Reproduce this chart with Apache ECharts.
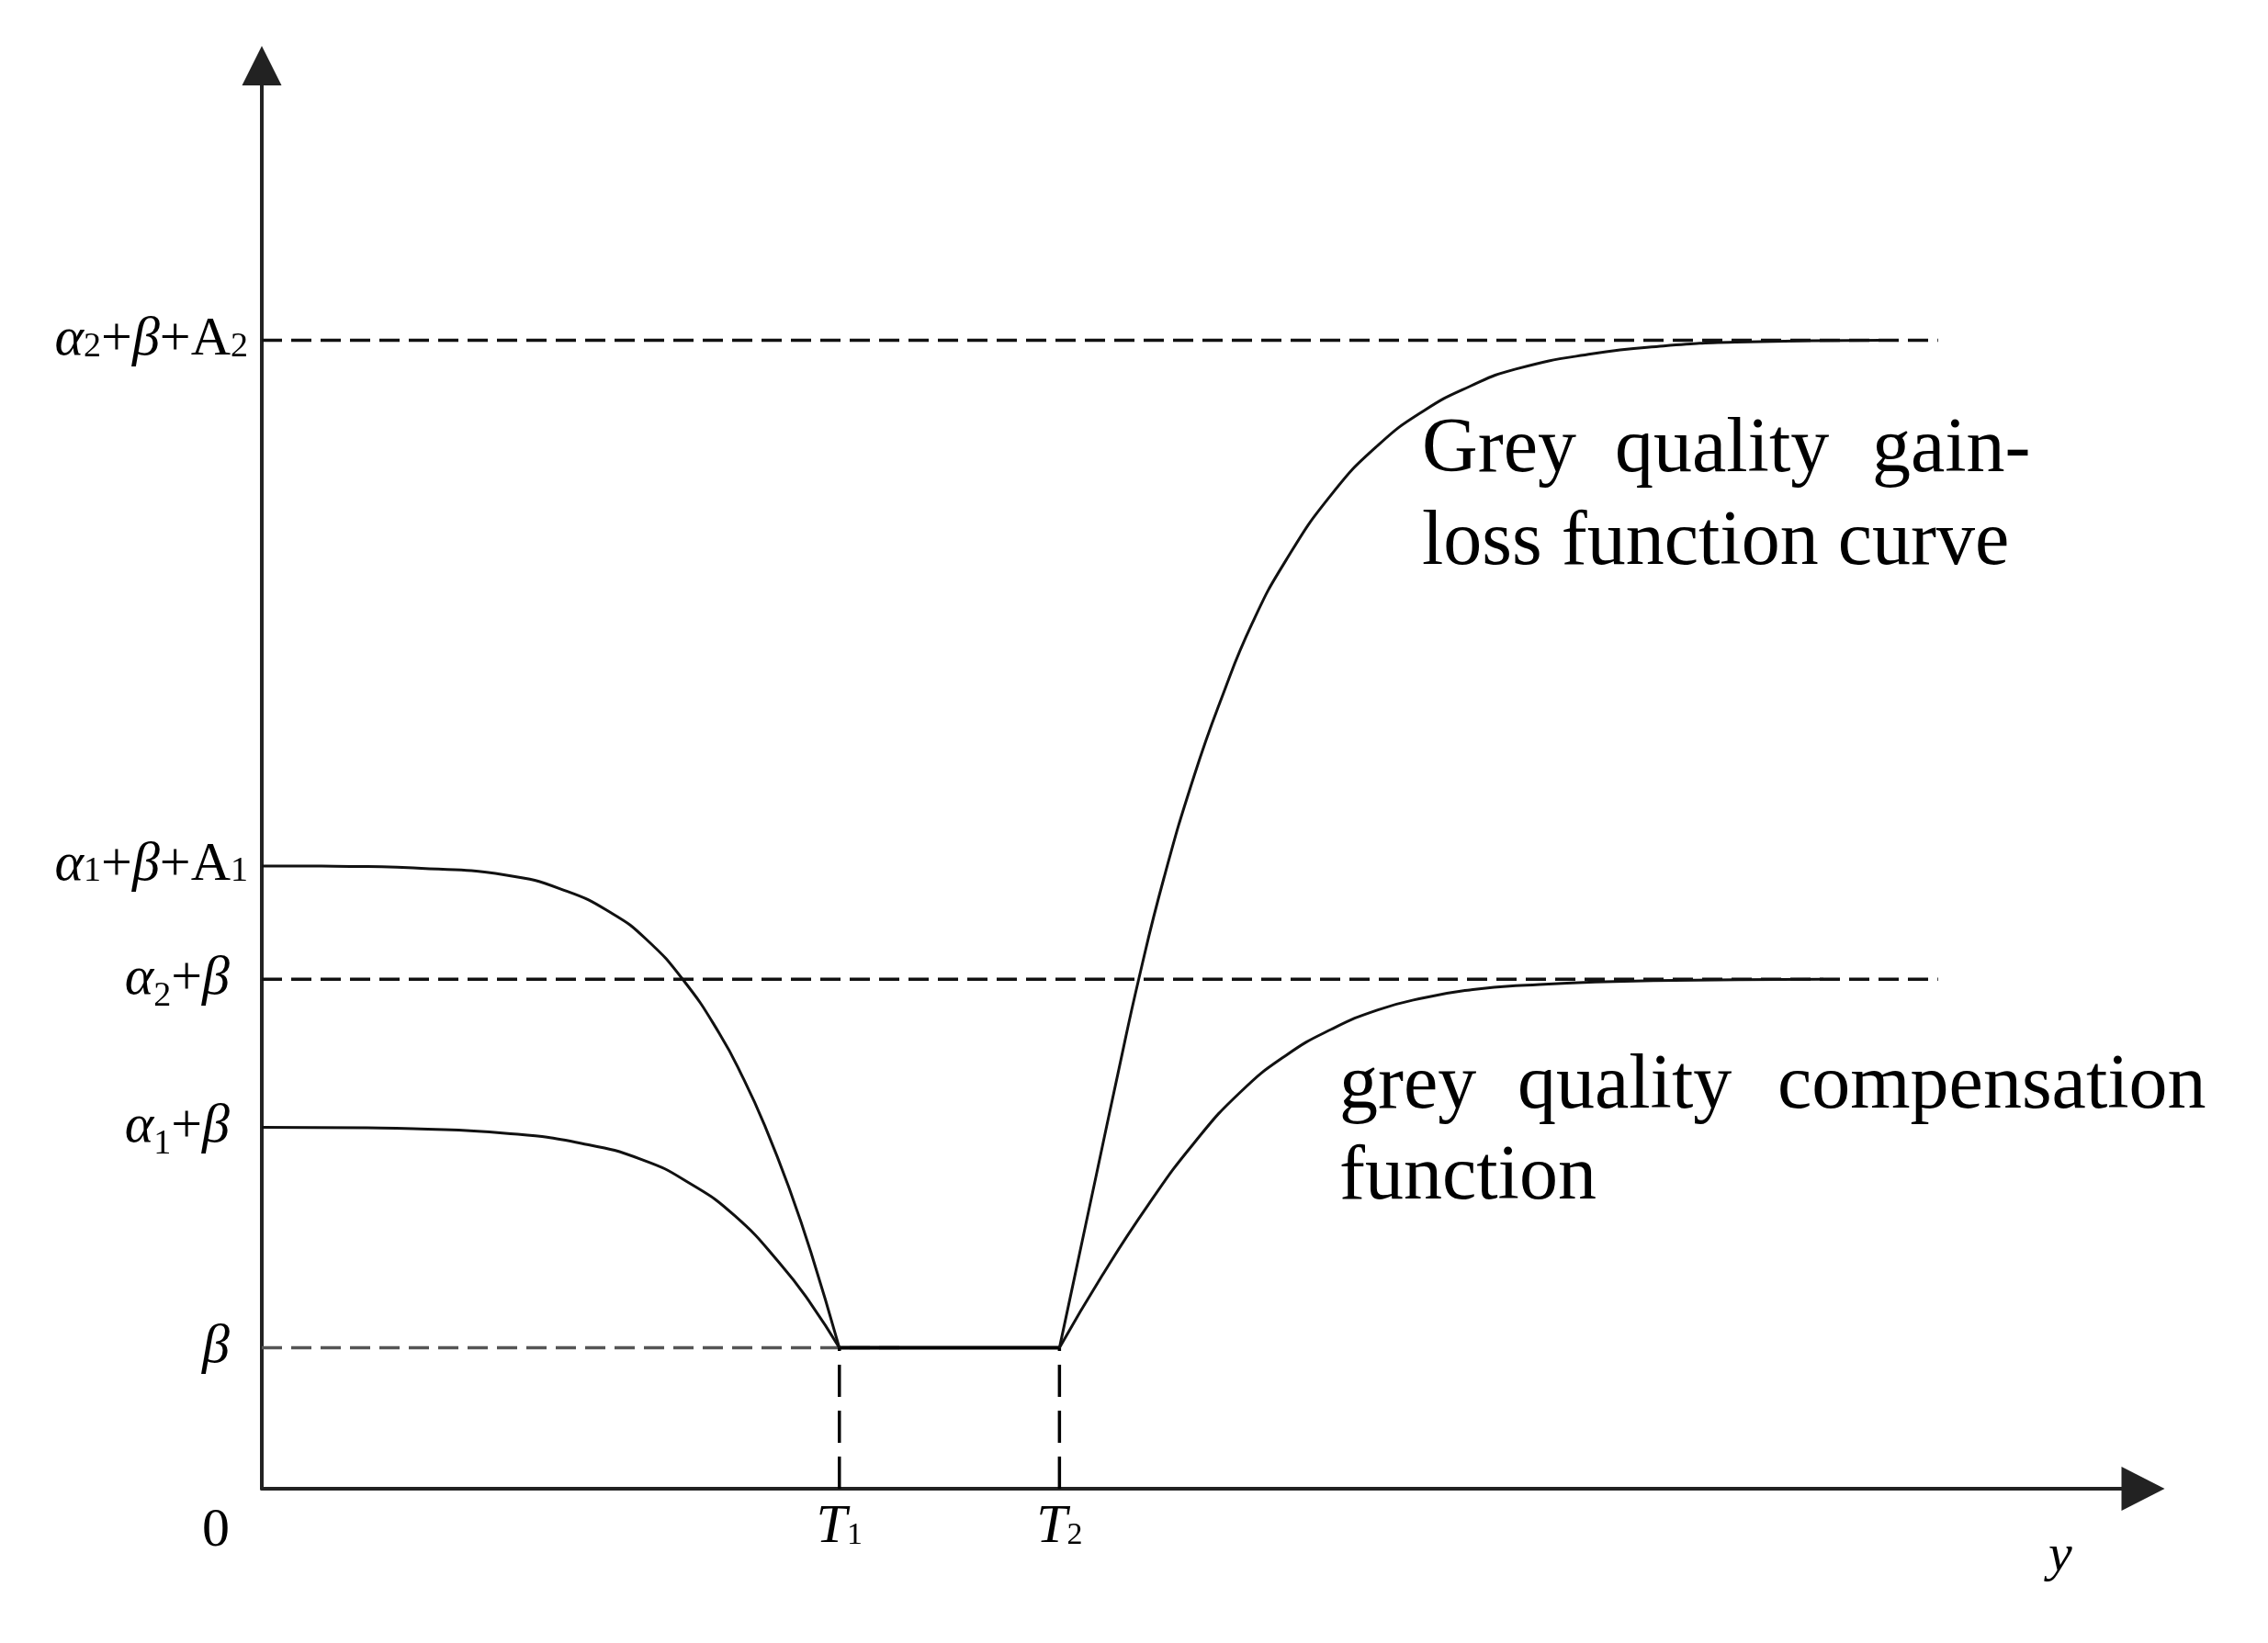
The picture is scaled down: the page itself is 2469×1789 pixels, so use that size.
<!DOCTYPE html>
<html>
<head>
<meta charset="utf-8">
<script src="https://cdn.jsdelivr.net/npm/echarts@6/dist/echarts.min.js"></script>
<style>html,body{margin:0;padding:0;background:#fff}#c{width:2469px;height:1789px}</style>
</head>
<body>
<div id="c"></div>
<script>
// ---- levels on the vertical axis ----
const yTickValues = [0, 9.9, 25.4, 35.8, 43.8, 80.7];
const yTickLabels = [
  '{zero|0}',
  '{gEnd|β}',
  '{g|α}{sl|1}{r|+}{gEnd|β}',
  '{g|α}{sl|2}{r|+}{gEnd|β}',
  '{g|α}{sb|1}{r|+}{g|β}{r|+A}{sb|1}',
  '{g|α}{sb|2}{r|+}{g|β}{r|+A}{sb|2}'
];
const BETA = 9.9, A2B = 35.8, A2BA2 = 80.7;
// ---- thresholds on the horizontal axis ----
const xTickValues = [30.7, 42.4];
const xTickLabels = ['{t|T}{ts|1}', '{t|T}{ts|2}'];
const T1 = 30.7, T2 = 42.4;
const dashEnd = 89.1, betaDashEnd = 34.3;

// ---- curves ----
const gainLossLeft = [[0,43.76],[3.17,43.75],[5.62,43.72],[8.06,43.62],[12.94,43.13],[16.21,41.99],[18.65,40.4],[20.41,38.64],[22.37,35.8],[24.32,32.0],[25.63,28.74],[26.76,25.44],[28.08,20.94],[29.2,16.57],[30.7,9.9]];
const gainLossRight = [[42.4,9.9],[43.21,14.92],[44.34,21.93],[45.51,29.18],[46.63,35.9],[47.95,42.9],[49.56,50.1],[51.03,55.6],[52.64,60.8],[54.44,65.24],[56.88,69.9],[59.33,73.32],[61.77,75.75],[64.21,77.46],[66.65,78.68],[70.7,79.75],[74.51,80.3],[78.37,80.57],[86.08,80.7]];
const compLeft = [[0,25.4],[5.62,25.36],[8.06,25.3],[12.94,24.98],[16.99,24.27],[20.26,23.1],[22.71,21.49],[25.15,19.17],[27.59,15.75],[29.2,12.97],[30.7,9.9]];
const compRight = [[42.4,9.9],[44.68,15.0],[47.12,19.95],[49.56,24.3],[52.0,27.85],[54.44,30.45],[56.88,32.3],[59.33,33.65],[61.77,34.5],[64.21,35.05],[66.65,35.35],[73.97,35.7],[83.01,35.8]];

// ---- annotation texts ----
const annoGainWords = ['Grey', 'quality', 'gain-'];
const annoGainLine2 = 'loss function curve';
const annoCompWords = ['grey', 'quality', 'compensation'];
const annoCompLine2 = 'function';
const axisName = 'y';

const SERIF = '"Liberation Serif", "DejaVu Serif", serif';
const chart = echarts.init(document.getElementById('c'));

function pick(vals, labels, v) {
  for (let i = 0; i < vals.length; i++) if (Math.abs(vals[i] - v) < 1e-6) return labels[i];
  return '';
}
function seg(data, extra) {
  return Object.assign({
    type: 'line', data: data, symbol: 'none', showSymbol: false, silent: true,
    lineStyle: { color: '#111', width: 3 }
  }, extra || {});
}

const fontMain = 60, fontSub = 38;
const richY = {
  g: { fontFamily: SERIF, fontStyle: 'italic', fontSize: fontMain, lineHeight: fontMain, verticalAlign: 'top', padding: [0,0,12,0], color: '#000' },
  gEnd: { fontFamily: SERIF, fontStyle: 'italic', fontSize: fontMain, lineHeight: fontMain, verticalAlign: 'top', padding: [0,20,12,0], color: '#000' },
  r: { fontFamily: SERIF, fontSize: fontMain, lineHeight: fontMain, verticalAlign: 'top', padding: [0,0,12,0], color: '#000' },
  sb: { fontFamily: SERIF, fontSize: fontSub, lineHeight: fontSub, verticalAlign: 'top', padding: [18,0,0,0], color: '#000' },
  sl: { fontFamily: SERIF, fontSize: fontSub, lineHeight: fontSub, verticalAlign: 'top', padding: [30,0,0,0], color: '#000' },
  zero: { fontFamily: SERIF, fontSize: fontMain, lineHeight: fontMain, verticalAlign: 'top', padding: [46,20,0,0], color: '#000' }
};
const richX = {
  t: { fontFamily: SERIF, fontStyle: 'italic', fontSize: 60, lineHeight: 60, verticalAlign: 'top', color: '#000' },
  ts: { fontFamily: SERIF, fontSize: 34, lineHeight: 34, verticalAlign: 'top', padding: [22,0,0,0], color: '#000' }
};

const textBig = (t, x, y) => ({
  type: 'text', x: x, y: y, silent: true,
  style: { text: t, font: '84px ' + SERIF, fill: '#000', verticalAlign: 'middle', textVerticalAlign: 'middle' }
});

const option = {
  animation: false,
  backgroundColor: '#fff',
  grid: { left: 285, right: 136, top: 71.5, bottom: 168 },
  xAxis: {
    type: 'value', min: 0, max: 100,
    name: axisName, nameLocation: 'end', nameGap: -103,
    nameTextStyle: { fontFamily: SERIF, fontStyle: 'italic', fontSize: 58, lineHeight: 58, color: '#000', align: 'left', verticalAlign: 'top', padding: [45,0,0,0] },
    axisLine: { show: true, symbol: ['none', 'triangle'], symbolSize: [48, 47], lineStyle: { color: '#222', width: 4 } },
    axisTick: { show: false },
    splitLine: { show: false },
    axisLabel: {
      customValues: xTickValues, margin: 12, rich: richX,
      formatter: v => pick(xTickValues, xTickLabels, v)
    }
  },
  yAxis: {
    type: 'value', min: 0, max: 100,
    axisLine: { show: true, symbol: ['none', 'triangle'], symbolSize: [43, 43], lineStyle: { color: '#222', width: 4 } },
    axisTick: { show: false },
    splitLine: { show: false },
    axisLabel: {
      customValues: yTickValues, margin: 15, rich: richY, align: 'right',
      formatter: v => pick(yTickValues, yTickLabels, v)
    }
  },
  series: [
    seg([[0, A2BA2], [dashEnd, A2BA2]], { lineStyle: { color: '#111', width: 3.5, type: [22, 10] } }),
    seg([[0, A2B], [dashEnd, A2B]], { lineStyle: { color: '#111', width: 3.5, type: [22, 10] } }),
    seg([[0, BETA], [betaDashEnd, BETA]], { lineStyle: { color: '#555', width: 3.5, type: [22, 10] } }),
    seg([[T1, 0], [T1, BETA]], { lineStyle: { color: '#000', width: 3.5, type: [35, 15] } }),
    seg([[T2, 0], [T2, BETA]], { lineStyle: { color: '#000', width: 3.5, type: [35, 15] } }),
    seg([[T1, BETA], [T2, BETA]], { lineStyle: { color: '#000', width: 4 } }),
    seg(gainLossLeft, { smooth: 0.5 }),
    seg(gainLossRight, { smooth: 0.5 }),
    seg(compLeft, { smooth: 0.5 }),
    seg(compRight, { smooth: 0.5 })
  ],
  graphic: [
    textBig(annoGainWords[0], 1548, 491),
    textBig(annoGainWords[1], 1758, 491),
    textBig(annoGainWords[2], 2038, 491),
    textBig(annoGainLine2, 1548, 592),
    textBig(annoCompWords[0], 1458, 1184),
    textBig(annoCompWords[1], 1652, 1184),
    textBig(annoCompWords[2], 1935, 1184),
    textBig(annoCompLine2, 1458, 1283)
  ]
};
chart.setOption(option);
</script>
</body>
</html>
